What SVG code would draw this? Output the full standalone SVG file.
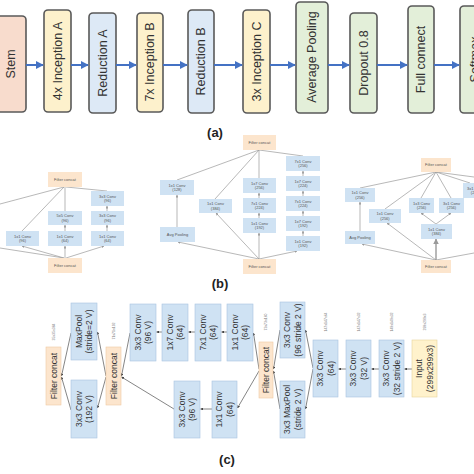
<svg xmlns="http://www.w3.org/2000/svg" width="474" height="474" viewBox="0 0 474 474">
<defs>
<style>
.bg{fill:#ffffff}
.ab{stroke:#595959;stroke-width:1.6}
.stem{fill:#f8dccd}
.yel{fill:#fdf1cc}
.blu{fill:#dde9f6}
.grn{fill:#e3efd9}
.at{font-family:"Liberation Sans",Arial,sans-serif;font-size:12.5px;fill:#333;text-anchor:middle}
.aarr{stroke:#4472c4;stroke-width:2;fill:none}
.lbl{font-family:"Liberation Sans",Arial,sans-serif;font-size:13px;font-weight:bold;fill:#222;text-anchor:middle}
.bb{fill:#cfe2f3}
.bp{fill:#fce5cd}
.bt{font-family:"Liberation Sans",Arial,sans-serif;font-size:4px;fill:#555;text-anchor:middle}
.bl{stroke:#9a9a9a;stroke-width:0.7;fill:none}
.cb{fill:#cfe2f3;stroke:#a9c4e0;stroke-width:0.6}
.cp{fill:#fce5cd;stroke:#efc9a3;stroke-width:0.6}
.cy{fill:#fff2cc;stroke:#e6d39c;stroke-width:0.6}
.ct{font-family:"Liberation Sans",Arial,sans-serif;font-size:8.5px;fill:#333;text-anchor:middle}
.cs{font-family:"Liberation Sans",Arial,sans-serif;font-size:3.5px;fill:#777;text-anchor:middle}
.cl{stroke:#666;stroke-width:0.8;fill:none}
</style>
<marker id="ma" viewBox="0 0 10 10" refX="9" refY="5" markerWidth="4" markerHeight="4" orient="auto" markerUnits="strokeWidth"><path d="M0,0 L10,5 L0,10 z" fill="#4472c4"/></marker>
<marker id="mb" viewBox="0 0 10 10" refX="9" refY="5" markerWidth="4" markerHeight="4" orient="auto" markerUnits="strokeWidth"><path d="M0,0 L10,5 L0,10 z" fill="#9a9a9a"/></marker>
<marker id="mc" viewBox="0 0 10 10" refX="9" refY="5" markerWidth="3.5" markerHeight="3.5" orient="auto" markerUnits="strokeWidth"><path d="M0,0 L10,5 L0,10 z" fill="#444"/></marker>
</defs>
<rect class="bg" x="0" y="0" width="474" height="474"/>

<!-- (a) -->
<g id="a-stem"><rect class="ab stem" x="-5" y="16" width="31" height="96" rx="4"/><text class="at" transform="translate(10.5,64) rotate(-90)" y="4.4">Stem</text></g>
<g id="a-incA"><rect class="ab yel" x="44" y="10" width="27" height="102" rx="4"/><text class="at" transform="translate(57.5,61) rotate(-90)" y="4.4">4x Inception A</text></g>
<g id="a-redA"><rect class="ab blu" x="89" y="13" width="27" height="100" rx="4"/><text class="at" transform="translate(102.5,63) rotate(-90)" y="4.4">Reduction A</text></g>
<g id="a-incB"><rect class="ab yel" x="137" y="13" width="26" height="99" rx="4"/><text class="at" transform="translate(150,62) rotate(-90)" y="4.4">7x Inception B</text></g>
<g id="a-redB"><rect class="ab blu" x="188" y="10" width="26" height="103" rx="4"/><text class="at" transform="translate(201,61.5) rotate(-90)" y="4.4">Reduction B</text></g>
<g id="a-incC"><rect class="ab yel" x="243" y="10" width="27" height="103" rx="4"/><text class="at" transform="translate(256.5,61.5) rotate(-90)" y="4.4">3x Inception C</text></g>
<g id="a-avg"><rect class="ab grn" x="296" y="2" width="32" height="111" rx="4"/><text class="at" transform="translate(312,57) rotate(-90)" y="4.4">Average Pooling</text></g>
<g id="a-drop"><rect class="ab grn" x="350" y="13" width="27" height="100" rx="4"/><text class="at" transform="translate(363.5,63) rotate(-90)" y="4.4">Dropout 0.8</text></g>
<g id="a-fc"><rect class="ab grn" x="408" y="6" width="26" height="107" rx="4"/><text class="at" transform="translate(421,59.5) rotate(-90)" y="4.4">Full connect</text></g>
<g id="a-soft"><rect class="ab grn" x="460" y="6" width="30" height="107" rx="4"/><text class="at" transform="translate(475,59.5) rotate(-90)" y="4.4">Softmax</text></g>
<g id="a-conn">
<line class="aarr" x1="26" y1="65" x2="43" y2="65" marker-end="url(#ma)"/>
<line class="aarr" x1="71" y1="65" x2="88" y2="65" marker-end="url(#ma)"/>
<line class="aarr" x1="116" y1="65" x2="136" y2="65" marker-end="url(#ma)"/>
<line class="aarr" x1="163" y1="65" x2="187" y2="65" marker-end="url(#ma)"/>
<line class="aarr" x1="214" y1="65" x2="242" y2="65" marker-end="url(#ma)"/>
<line class="aarr" x1="270" y1="65" x2="295" y2="65" marker-end="url(#ma)"/>
<line class="aarr" x1="328" y1="65" x2="349" y2="65" marker-end="url(#ma)"/>
<line class="aarr" x1="377" y1="65" x2="407" y2="65" marker-end="url(#ma)"/>
<line class="aarr" x1="434" y1="65" x2="459" y2="65" marker-end="url(#ma)"/>
</g>
<text class="lbl" x="215" y="137">(a)</text>

<!-- (b) connectors -->
<g id="b-conn">
<line class="bl" x1="0" y1="204" x2="64" y2="187"/>
<line class="bl" x1="22" y1="231" x2="64" y2="187"/>
<line class="bl" x1="65" y1="211" x2="65" y2="187"/>
<line class="bl" x1="107" y1="191" x2="66" y2="187"/>
<line class="bl" x1="107" y1="211" x2="107" y2="206" marker-end="url(#mb)"/>
<line class="bl" x1="107" y1="231" x2="107" y2="225" marker-end="url(#mb)"/>
<line class="bl" x1="65" y1="231" x2="65" y2="225" marker-end="url(#mb)"/>
<line class="bl" x1="64" y1="258" x2="0" y2="248"/>
<line class="bl" x1="64" y1="258" x2="22" y2="246" marker-end="url(#mb)"/>
<line class="bl" x1="65" y1="258" x2="65" y2="246" marker-end="url(#mb)"/>
<line class="bl" x1="66" y1="258" x2="104" y2="246" marker-end="url(#mb)"/>

<line class="bl" x1="259" y1="150" x2="177" y2="180"/>
<line class="bl" x1="259" y1="150" x2="215" y2="199"/>
<line class="bl" x1="259" y1="150" x2="259" y2="178"/>
<line class="bl" x1="259" y1="150" x2="303" y2="156"/>
<line class="bl" x1="177" y1="227" x2="177" y2="195" marker-end="url(#mb)"/>
<line class="bl" x1="259" y1="198" x2="259" y2="193" marker-end="url(#mb)"/>
<line class="bl" x1="259" y1="218" x2="259" y2="213" marker-end="url(#mb)"/>
<line class="bl" x1="303" y1="176" x2="303" y2="171" marker-end="url(#mb)"/>
<line class="bl" x1="303" y1="196" x2="303" y2="191" marker-end="url(#mb)"/>
<line class="bl" x1="303" y1="216" x2="303" y2="211" marker-end="url(#mb)"/>
<line class="bl" x1="303" y1="236" x2="303" y2="231" marker-end="url(#mb)"/>
<line class="bl" x1="259" y1="259" x2="178" y2="242" marker-end="url(#mb)"/>
<line class="bl" x1="259" y1="259" x2="216" y2="213" marker-end="url(#mb)"/>
<line class="bl" x1="259" y1="259" x2="259" y2="233" marker-end="url(#mb)"/>
<line class="bl" x1="259" y1="259" x2="297" y2="251" marker-end="url(#mb)"/>

<line class="bl" x1="436" y1="172" x2="360" y2="188"/>
<line class="bl" x1="436" y1="172" x2="385" y2="209"/>
<line class="bl" x1="436" y1="172" x2="421" y2="198"/>
<line class="bl" x1="436" y1="172" x2="451" y2="198"/>
<line class="bl" x1="436" y1="172" x2="470" y2="183"/>
<line class="bl" x1="436" y1="172" x2="474" y2="177"/>
<line class="bl" x1="360" y1="231" x2="360" y2="202" marker-end="url(#mb)"/>
<line class="bl" x1="436" y1="224" x2="421" y2="213" marker-end="url(#mb)"/>
<line class="bl" x1="436" y1="224" x2="451" y2="213" marker-end="url(#mb)"/>
<line class="bl" x1="436" y1="260" x2="362" y2="244" marker-end="url(#mb)"/>
<line class="bl" x1="436" y1="260" x2="387" y2="223" marker-end="url(#mb)"/>
<line class="bl" x1="436" y1="260" x2="436" y2="239" style="stroke-width:1.4" marker-end="url(#mb)"/>
<line class="bl" x1="436" y1="260" x2="474" y2="253"/>
</g>

<!-- (b) left: Inception A -->
<g id="bA-top"><rect class="bp" x="48" y="172" width="34" height="15"/><text class="bt" x="65" y="180.9">Filter concat</text></g>
<g id="bA-c33a"><rect class="bb" x="91" y="191" width="33" height="15"/><text class="bt" x="107.5" y="197.5">3x3 Conv<tspan x="107.5" dy="4.6">(96)</tspan></text></g>
<g id="bA-c33b"><rect class="bb" x="91" y="211" width="33" height="14"/><text class="bt" x="107.5" y="217">3x3 Conv<tspan x="107.5" dy="4.6">(96)</tspan></text></g>
<g id="bA-c55"><rect class="bb" x="48" y="211" width="34" height="14"/><text class="bt" x="65" y="217">5x5 Conv<tspan x="65" dy="4.6">(96)</tspan></text></g>
<g id="bA-c11a"><rect class="bb" x="6" y="231" width="33" height="15"/><text class="bt" x="22.5" y="237.5">1x1 Conv<tspan x="22.5" dy="4.6">(96)</tspan></text></g>
<g id="bA-c11b"><rect class="bb" x="48" y="231" width="34" height="15"/><text class="bt" x="65" y="237.5">1x1 Conv<tspan x="65" dy="4.6">(64)</tspan></text></g>
<g id="bA-c11c"><rect class="bb" x="91" y="231" width="33" height="15"/><text class="bt" x="107.5" y="237.5">1x1 Conv<tspan x="107.5" dy="4.6">(64)</tspan></text></g>
<g id="bA-bot"><rect class="bp" x="48" y="258" width="34" height="15"/><text class="bt" x="65" y="266.9">Filter concat</text></g>

<!-- (b) middle: Inception B -->
<g id="bB-top"><rect class="bp" x="243" y="135" width="33" height="15"/><text class="bt" x="259.5" y="143.9">Filter concat</text></g>
<g id="bB-c128"><rect class="bb" x="160" y="180" width="34" height="15"/><text class="bt" x="177" y="186.5">1x1 Conv<tspan x="177" dy="4.6">(128)</tspan></text></g>
<g id="bB-avg"><rect class="bb" x="160" y="227" width="35" height="15"/><text class="bt" x="177.5" y="235.9">Avg Pooling</text></g>
<g id="bB-c384"><rect class="bb" x="199" y="199" width="33" height="14"/><text class="bt" x="215.5" y="205">1x1 Conv<tspan x="215.5" dy="4.6">(384)</tspan></text></g>
<g id="bB-m1"><rect class="bb" x="243" y="178" width="33" height="15"/><text class="bt" x="259.5" y="184.5">1x7 Conv<tspan x="259.5" dy="4.6">(256)</tspan></text></g>
<g id="bB-m2"><rect class="bb" x="243" y="198" width="33" height="15"/><text class="bt" x="259.5" y="204.5">7x1 Conv<tspan x="259.5" dy="4.6">(224)</tspan></text></g>
<g id="bB-m3"><rect class="bb" x="243" y="218" width="33" height="15"/><text class="bt" x="259.5" y="224.5">1x1 Conv<tspan x="259.5" dy="4.6">(192)</tspan></text></g>
<g id="bB-r1"><rect class="bb" x="286" y="156" width="34" height="15"/><text class="bt" x="303" y="162.5">7x1 Conv<tspan x="303" dy="4.6">(256)</tspan></text></g>
<g id="bB-r2"><rect class="bb" x="286" y="176" width="34" height="15"/><text class="bt" x="303" y="182.5">1x7 Conv<tspan x="303" dy="4.6">(224)</tspan></text></g>
<g id="bB-r3"><rect class="bb" x="286" y="196" width="34" height="15"/><text class="bt" x="303" y="202.5">7x1 Conv<tspan x="303" dy="4.6">(224)</tspan></text></g>
<g id="bB-r4"><rect class="bb" x="286" y="216" width="34" height="15"/><text class="bt" x="303" y="222.5">1x7 Conv<tspan x="303" dy="4.6">(192)</tspan></text></g>
<g id="bB-r5"><rect class="bb" x="286" y="236" width="34" height="15"/><text class="bt" x="303" y="242.5">1x1 Conv<tspan x="303" dy="4.6">(192)</tspan></text></g>
<g id="bB-bot"><rect class="bp" x="243" y="259" width="33" height="15"/><text class="bt" x="259.5" y="267.9">Filter concat</text></g>

<!-- (b) right: Inception C -->
<g id="bC-top"><rect class="bp" x="421" y="158" width="30" height="14"/><text class="bt" x="436" y="166.4">Filter concat</text></g>
<g id="bC-c256a"><rect class="bb" x="345" y="188" width="30" height="14"/><text class="bt" x="360" y="194">1x1 Conv<tspan x="360" dy="4.6">(256)</tspan></text></g>
<g id="bC-avg"><rect class="bb" x="345" y="231" width="30" height="13"/><text class="bt" x="360" y="238.9">Avg Pooling</text></g>
<g id="bC-c256b"><rect class="bb" x="369" y="209" width="32" height="14"/><text class="bt" x="385" y="215">1x1 Conv<tspan x="385" dy="4.6">(256)</tspan></text></g>
<g id="bC-c13"><rect class="bb" x="409" y="198" width="25" height="15"/><text class="bt" x="421.5" y="204.5">1x3 Conv<tspan x="421.5" dy="4.6">(256)</tspan></text></g>
<g id="bC-c31"><rect class="bb" x="439" y="198" width="25" height="15"/><text class="bt" x="451.5" y="204.5">3x1 Conv<tspan x="451.5" dy="4.6">(256)</tspan></text></g>
<g id="bC-c384"><rect class="bb" x="421" y="224" width="31" height="15"/><text class="bt" x="436.5" y="230.5">1x1 Conv<tspan x="436.5" dy="4.6">(384)</tspan></text></g>
<g id="bC-part"><rect class="bb" x="463" y="183" width="25" height="15"/><text class="bt" x="475.5" y="189.5">3x1 Conv<tspan x="475.5" dy="4.6">(256)</tspan></text></g>
<g id="bC-bot"><rect class="bp" x="421" y="260" width="30" height="13"/><text class="bt" x="436" y="267.9">Filter concat</text></g>
<text class="lbl" x="220" y="288">(b)</text>

<!-- (c) connectors -->
<g id="c-conn">
<line class="cl" x1="71" y1="333" x2="61.5" y2="376" marker-end="url(#mc)"/>
<line class="cl" x1="71" y1="410" x2="61.5" y2="377" marker-end="url(#mc)"/>
<line class="cl" x1="106" y1="376" x2="97.5" y2="332" marker-end="url(#mc)"/>
<line class="cl" x1="106" y1="377" x2="97.5" y2="408" marker-end="url(#mc)"/>
<line class="cl" x1="130" y1="333" x2="121.5" y2="376" marker-end="url(#mc)"/>
<line class="cl" x1="174" y1="409" x2="121.5" y2="377" marker-end="url(#mc)"/>
<line class="cl" x1="162" y1="332" x2="156.5" y2="332" marker-end="url(#mc)"/>
<line class="cl" x1="195" y1="332" x2="188.5" y2="332" marker-end="url(#mc)"/>
<line class="cl" x1="227" y1="332" x2="221.5" y2="332" marker-end="url(#mc)"/>
<line class="cl" x1="259" y1="369" x2="253.5" y2="333" marker-end="url(#mc)"/>
<line class="cl" x1="259" y1="371" x2="237.5" y2="408" marker-end="url(#mc)"/>
<line class="cl" x1="212" y1="409" x2="200.5" y2="409" marker-end="url(#mc)"/>
<line class="cl" x1="280" y1="330" x2="273.5" y2="369" marker-end="url(#mc)"/>
<line class="cl" x1="280" y1="409" x2="273.5" y2="371" marker-end="url(#mc)"/>
<line class="cl" x1="313" y1="368" x2="305.5" y2="330" marker-end="url(#mc)"/>
<line class="cl" x1="313" y1="369" x2="305.5" y2="409" marker-end="url(#mc)"/>
<line class="cl" x1="346" y1="369" x2="338.5" y2="369" marker-end="url(#mc)"/>
<line class="cl" x1="379" y1="369" x2="371.5" y2="369" marker-end="url(#mc)"/>
<line class="cl" x1="412" y1="369" x2="404.5" y2="369" marker-end="url(#mc)"/>
</g>

<!-- (c) nodes -->
<g id="c-fc1"><rect class="cp" x="46" y="347" width="15" height="58"/><text class="ct" transform="translate(53.5,376) rotate(-90)" y="3">Filter concat</text><text class="cs" transform="translate(53.5,332) rotate(-90)" y="1.2">35x35x384</text></g>
<g id="c-maxpool1"><rect class="cb" x="71" y="303" width="26" height="57"/><text class="ct" transform="translate(84,331.5) rotate(-90)"><tspan x="0" y="-2.3">MaxPool</tspan><tspan x="0" y="8.2">(stride=2 V)</tspan></text></g>
<g id="c-conv192"><rect class="cb" x="71" y="380" width="26" height="58"/><text class="ct" transform="translate(84,409) rotate(-90)"><tspan x="0" y="-2.3">3x3 Conv</tspan><tspan x="0" y="8.2">(192 V)</tspan></text></g>
<g id="c-fc2"><rect class="cp" x="106" y="347" width="15" height="58"/><text class="ct" transform="translate(113.5,376) rotate(-90)" y="3">Filter concat</text><text class="cs" transform="translate(113.5,331) rotate(-90)" y="1.2">71x71x192</text></g>
<g id="c-conv96a"><rect class="cb" x="130" y="304" width="26" height="57"/><text class="ct" transform="translate(143,332.5) rotate(-90)"><tspan x="0" y="-2.3">3x3 Conv</tspan><tspan x="0" y="8.2">(96 V)</tspan></text></g>
<g id="c-conv17"><rect class="cb" x="162" y="304" width="26" height="57"/><text class="ct" transform="translate(175,332.5) rotate(-90)"><tspan x="0" y="-2.3">1x7 Conv</tspan><tspan x="0" y="8.2">(64)</tspan></text></g>
<g id="c-conv71"><rect class="cb" x="195" y="304" width="26" height="57"/><text class="ct" transform="translate(208,332.5) rotate(-90)"><tspan x="0" y="-2.3">7x1 Conv</tspan><tspan x="0" y="8.2">(64)</tspan></text></g>
<g id="c-conv11a"><rect class="cb" x="227" y="304" width="26" height="57"/><text class="ct" transform="translate(240,332.5) rotate(-90)"><tspan x="0" y="-2.3">1x1 Conv</tspan><tspan x="0" y="8.2">(64)</tspan></text></g>
<g id="c-conv96b"><rect class="cb" x="174" y="381" width="26" height="57"/><text class="ct" transform="translate(187,409.5) rotate(-90)"><tspan x="0" y="-2.3">3x3 Conv</tspan><tspan x="0" y="8.2">(96 V)</tspan></text></g>
<g id="c-conv11b"><rect class="cb" x="212" y="381" width="25" height="57"/><text class="ct" transform="translate(224.5,409.5) rotate(-90)"><tspan x="0" y="-2.3">1x1 Conv</tspan><tspan x="0" y="8.2">(64)</tspan></text></g>
<g id="c-fc3"><rect class="cp" x="259" y="342" width="14" height="56"/><text class="ct" transform="translate(266,370) rotate(-90)" y="3">Filter concat</text><text class="cs" transform="translate(266,322) rotate(-90)" y="1.2">73x73x160</text></g>
<g id="c-conv96s2"><rect class="cb" x="280" y="302" width="25" height="56"/><text class="ct" transform="translate(292.5,330) rotate(-90)"><tspan x="0" y="-2.3">3x3 Conv</tspan><tspan x="0" y="8.2">(96 stride 2 V)</tspan></text></g>
<g id="c-maxpool2"><rect class="cb" x="280" y="381" width="25" height="57"/><text class="ct" transform="translate(292.5,409.5) rotate(-90)"><tspan x="0" y="-2.3">3x3 MaxPool</tspan><tspan x="0" y="8.2">(stride 2 V)</tspan></text></g>
<g id="c-conv64"><rect class="cb" x="313" y="340" width="25" height="57"/><text class="ct" transform="translate(325.5,368.5) rotate(-90)"><tspan x="0" y="-2.3">3x3 Conv</tspan><tspan x="0" y="8.2">(64)</tspan></text><text class="cs" transform="translate(326,322) rotate(-90)" y="1.2">147x147x64</text></g>
<g id="c-conv32v"><rect class="cb" x="346" y="340" width="25" height="57"/><text class="ct" transform="translate(358.5,368.5) rotate(-90)"><tspan x="0" y="-2.3">3x3 Conv</tspan><tspan x="0" y="8.2">(32 V)</tspan></text><text class="cs" transform="translate(358.5,322) rotate(-90)" y="1.2">147x147x32</text></g>
<g id="c-conv32s2"><rect class="cb" x="379" y="340" width="25" height="57"/><text class="ct" transform="translate(391.5,368.5) rotate(-90)"><tspan x="0" y="-2.3">3x3 Conv</tspan><tspan x="0" y="8.2">(32 stride 2 V)</tspan></text><text class="cs" transform="translate(392,322) rotate(-90)" y="1.2">149x149x32</text></g>
<g id="c-input"><rect class="cy" x="412" y="340" width="25" height="57"/><text class="ct" transform="translate(424.5,368.5) rotate(-90)"><tspan x="0" y="-2.3">Input</tspan><tspan x="0" y="8.2">(299x299x3)</tspan></text><text class="cs" transform="translate(425,322) rotate(-90)" y="1.2">299x299x3</text></g>
<text class="lbl" x="227" y="464">(c)</text>
</svg>
